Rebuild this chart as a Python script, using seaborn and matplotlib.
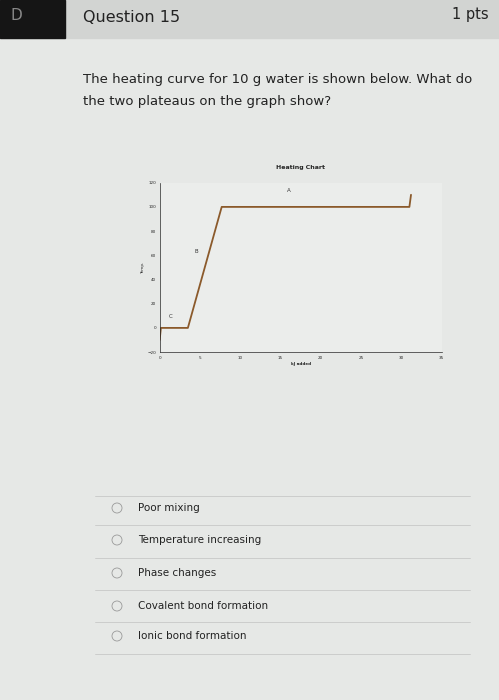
import matplotlib
matplotlib.use("Agg")
import matplotlib.pyplot as plt
from matplotlib.patches import Ellipse
import seaborn as sns
import pandas as pd

# heating curve
heat_added = [0, 0.15, 3.5, 7.7, 31.0, 31.2]
temp = [-10, 0, 0, 100, 100, 110]
xticks = [0, 5, 10, 15, 20, 25, 30, 35]
yticks = [-20, 0, 20, 40, 60, 80, 100, 120]
labels = {"A": (16, 112), "B": (4.5, 62), "C": (1.3, 8)}
choices = ["Poor mixing", "Temperature increasing", "Phase changes",
           "Covalent bond formation", "Ionic bond formation"]

sns.set_style("white")
fig = plt.figure(figsize=(4.99, 7.0), dpi=100)
fig.patch.set_facecolor("#e6e8e6")

# header band
fig.patches.append(plt.Rectangle((0, 1 - 38 / 700), 1, 38 / 700, transform=fig.transFigure,
                                 color="#d2d4d2", zorder=0))
fig.patches.append(plt.Rectangle((0, 1 - 38 / 700), 65 / 499, 38 / 700, transform=fig.transFigure,
                                 color="#151515", zorder=1))
fig.text(83 / 499, 1 - 18 / 700, "Question 15", fontsize=11.5, va="center", color="#222")
fig.text(452 / 499, 1 - 14 / 700, "1 pts", fontsize=10.5, va="center", color="#222")
fig.text(10 / 499, 1 - 16 / 700, "D", fontsize=11, va="center", color="#888")
fig.text(83 / 499, 1 - 80 / 700, "The heating curve for 10 g water is shown below. What do",
         fontsize=9.5, va="center", color="#222")
fig.text(83 / 499, 1 - 102 / 700, "the two plateaus on the graph show?",
         fontsize=9.5, va="center", color="#222")

ax = fig.add_axes([0.32, 0.497, 0.565, 0.242])
ax.set_facecolor("#ebedeb")
df = pd.DataFrame({"heat": heat_added, "temp": temp})
sns.lineplot(data=df, x="heat", y="temp", ax=ax, color="#8b5a2b", linewidth=1.3, sort=False)
for k, (x, y) in labels.items():
    ax.text(x, y, k, fontsize=4, ha="center", color="#333")
ax.set_xlim(0, 35)
ax.set_ylim(-20, 120)
ax.set_xticks(xticks)
ax.set_yticks(yticks)
ax.tick_params(labelsize=3, length=1.5, pad=1)
ax.set_xlabel("kJ added", fontsize=3, fontweight="bold", labelpad=2)
ax.set_ylabel("Temp.", fontsize=3, labelpad=2)
ax.set_title("Heating Chart", fontsize=4.5, fontweight="bold", pad=10)
for s in ["top", "right"]:
    ax.spines[s].set_visible(False)
ax.spines["left"].set_linewidth(0.5)
ax.spines["bottom"].set_linewidth(0.5)

ys = [508, 540, 573, 606, 636]
for yy, c in zip(ys, choices):
    fig.patches.append(Ellipse((117 / 499, 1 - yy / 700), 10 / 499, 10 / 700,
                               transform=fig.transFigure, fill=False, ec="#999", lw=0.6))
    fig.text(138 / 499, 1 - yy / 700, c, fontsize=7.5, va="center", color="#222")
for yy in [496, 525, 558, 590, 622, 654]:
    fig.lines.append(plt.Line2D([95 / 499, 470 / 499], [1 - yy / 700] * 2,
                                transform=fig.transFigure, color="#c8c8c8", lw=0.6))

fig.savefig("out.png", dpi=100)
